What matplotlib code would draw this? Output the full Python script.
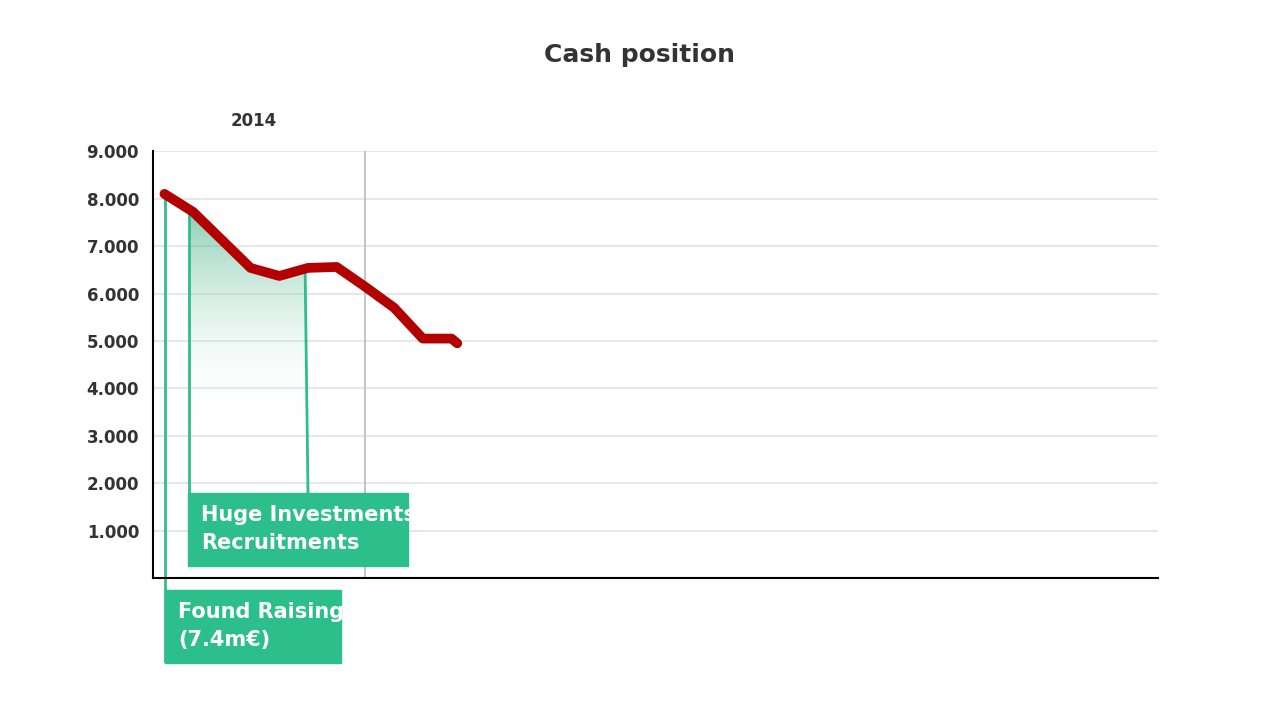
import matplotlib
matplotlib.use("Agg")
import matplotlib.pyplot as plt
import numpy as np
from matplotlib.patches import Polygon

months = [0.4, 1.4, 3.4, 4.4, 5.4, 6.4, 7.4, 8.4, 9.4, 10.4, 10.6]
cash = [8100, 7720, 6540, 6370, 6540, 6560, 6140, 5700, 5050, 5050, 4950]
yticks = [1000, 2000, 3000, 4000, 5000, 6000, 7000, 8000, 9000]
ylabels = ["1.000", "2.000", "3.000", "4.000", "5.000", "6.000", "7.000", "8.000", "9.000"]
year_label = "2014"
year_boundary = 7.4

green = "#2dbf8b"
fig = plt.figure(figsize=(12.8, 7.2), dpi=100)
ax = fig.add_axes([0.1195, 0.197, 0.785, 0.593])
ax.set_xlim(0, 35)
ax.set_ylim(0, 9000)
ax.set_yticks(yticks)
ax.set_yticklabels(ylabels, fontsize=12, fontweight="bold", color="#333333")
ax.set_xticks([])
ax.tick_params(axis="y", length=0, pad=10)
for s in ["top", "right"]:
    ax.spines[s].set_visible(False)
ax.spines["left"].set_linewidth(1.5)
ax.spines["bottom"].set_linewidth(1.5)
for y in yticks:
    ax.axhline(y, color="#e3e3e3", lw=1.2, zorder=0)
ax.axvline(year_boundary, color="#bbbbbb", lw=1.2, zorder=0)

# gradient shading between investment markers
x0, x1 = 1.27, 5.3
xs = np.linspace(x0, x1, 50)
ys = np.interp(xs, months, cash)
verts = [(x1, 3300), (x0, 3300)] + list(zip(xs[::-1], ys[::-1]))
verts = [(x0, 3300)] + list(zip(xs, ys)) + [(x1, 3300)]
poly = Polygon(verts, closed=True, facecolor="none", edgecolor="none")
ax.add_patch(poly)
grad = np.linspace(0, 1, 256).reshape(-1, 1)
cmap = matplotlib.colors.LinearSegmentedColormap.from_list("g", [(1, 1, 1, 0), (0.17, 0.65, 0.45, 0.55)])
im = ax.imshow(grad, extent=[x0, x1, 3300, 7800], origin="lower", cmap=cmap, aspect="auto", zorder=1)
im.set_clip_path(poly)

ax.plot([0.42, 0.42], [-1750, np.interp(0.42, months, cash)], color=green, lw=2, clip_on=False, zorder=2)
ax.plot([1.27, 1.27], [1800, np.interp(1.27, months, cash)], color=green, lw=2, zorder=2)
ax.plot([5.3, 5.4], [np.interp(5.3, months, cash), 1800], color=green, lw=2, zorder=2)

ax.plot(months, cash, color="#b30000", lw=7, solid_capstyle="round", solid_joinstyle="round", zorder=3)

ax.text(3.52, 9450, year_label, ha="center", va="bottom", fontsize=12, fontweight="bold", color="#333333")

fig.text(0.5, 0.923, "Cash position", ha="center", va="center", fontsize=18, fontweight="bold", color="#333333")

fig.patches.append(matplotlib.patches.Rectangle((188/1280, 1-566/720), 220/1280, 73/720, transform=fig.transFigure, color=green))
fig.text(201/1280, 1-529/720, "Huge Investments:\nRecruitments", fontsize=15, fontweight="bold", color="white", va="center", linespacing=1.5)
fig.patches.append(matplotlib.patches.Rectangle((165/1280, 1-663/720), 176/1280, 73/720, transform=fig.transFigure, color=green))
fig.text(178/1280, 1-626/720, "Found Raising\n(7.4m€)", fontsize=15, fontweight="bold", color="white", va="center", linespacing=1.5)

fig.savefig("out.png", dpi=100)
